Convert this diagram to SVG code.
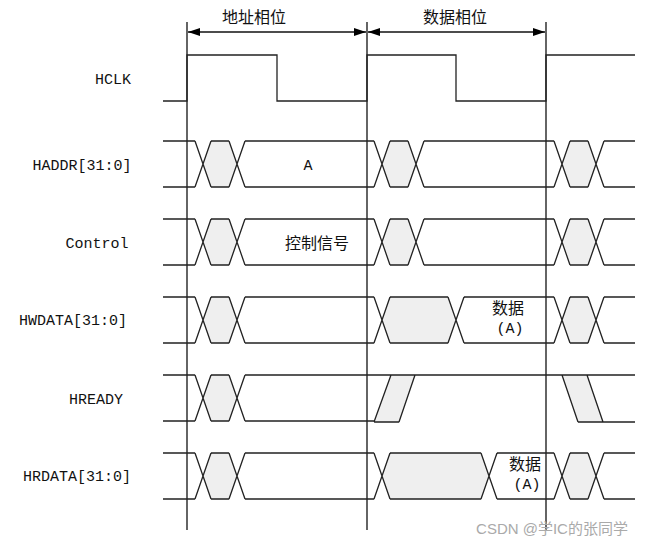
<svg xmlns="http://www.w3.org/2000/svg" width="661" height="548" viewBox="0 0 661 548">
<style>
.w{fill:none;stroke:#222;stroke-width:1.3}
.g{fill:#efefef;stroke:none}
.l{font-family:"Liberation Mono",monospace;font-size:15px;fill:#111}
.c{font-family:"Noto Sans CJK SC",sans-serif;font-size:16px;fill:#111}
.v{stroke:#111;stroke-width:1.3}
</style>
<defs>
<marker id="ah" markerWidth="12" markerHeight="8" refX="12" refY="4" orient="auto-start-reverse" markerUnits="userSpaceOnUse"><path d="M0,0L12,4L0,8z" fill="#000"/></marker>
<g id="xx">
<path class="g" d="M8,23L16,0H34L42,23L34,46H16Z"/>
<path class="w" d="M0,0L16,46M0,46L16,0M34,0L50,46M34,46L50,0M16,0H34M16,46H34"/>
</g>
</defs>
<rect width="661" height="548" fill="#fff"/>
<g id="connectors">
<line class="v" x1="187" y1="22" x2="187" y2="530"/>
<line class="v" x1="367" y1="22" x2="367" y2="530"/>
<line class="v" x1="546" y1="22" x2="546" y2="530"/>
<line class="v" x1="188" y1="32" x2="366" y2="32" marker-start="url(#ah)" marker-end="url(#ah)"/>
<line class="v" x1="368" y1="32" x2="545" y2="32" marker-start="url(#ah)" marker-end="url(#ah)"/>
</g>
<text class="c" x="254" y="23" text-anchor="middle">地址相位</text>
<text class="c" x="455" y="23" text-anchor="middle">数据相位</text>
<g id="HCLK">
<text class="l" x="113" y="84" text-anchor="middle">HCLK</text>
<path class="w" d="M163,101H187V55H277V101H367V55H456V101H546V55H635"/>
</g>
<g id="HADDR">
<text class="l" x="82" y="170" text-anchor="middle">HADDR[31:0]</text>
<g transform="translate(0,141)">
<path class="w" d="M163,0H195M163,46H195M245,0H374M245,46H374M424,0H554M424,46H554M604,0H635M604,46H635"/>
<use href="#xx" x="195"/><use href="#xx" x="374"/><use href="#xx" x="554"/>
</g>
<text class="l" x="308" y="170" text-anchor="middle">A</text>
</g>
<g id="Control">
<text class="l" x="97" y="248" text-anchor="middle">Control</text>
<g transform="translate(0,219)">
<path class="w" d="M163,0H195M163,46H195M245,0H374M245,46H374M424,0H554M424,46H554M604,0H635M604,46H635"/>
<use href="#xx" x="195"/><use href="#xx" x="374"/><use href="#xx" x="554"/>
</g>
<text class="c" x="317" y="249" text-anchor="middle">控制信号</text>
</g>
<g id="HWDATA">
<text class="l" x="73" y="325" text-anchor="middle">HWDATA[31:0]</text>
<g transform="translate(0,297)">
<path class="g" d="M382,23L390,0H448L456,23L448,46H390Z"/>
<path class="w" d="M163,0H195M163,46H195M245,0H374M245,46H374M374,0L390,46M374,46L390,0M390,0H448M390,46H448M448,0L464,46M448,46L464,0M464,0H554M464,46H554M604,0H635M604,46H635"/>
<use href="#xx" x="195"/><use href="#xx" x="554"/>
</g>
<text class="c" x="508" y="314" text-anchor="middle">数据</text>
<text class="l" x="510" y="333" text-anchor="middle">(A)</text>
</g>
<g id="HREADY">
<text class="l" x="96" y="404" text-anchor="middle">HREADY</text>
<g transform="translate(0,375)">
<path class="g" d="M374,47L391,0H415L399,47Z"/>
<path class="g" d="M562,0H587L603,47H578Z"/>
<path class="w" d="M163,0H195M163,46H195M245,0H635M245,46H374M374,47L391,0M399,47L415,0M374,47H399M562,0L578,47M587,0L603,47M578,47H635"/>
<use href="#xx" x="195"/>
</g>
</g>
<g id="HRDATA">
<text class="l" x="77" y="481" text-anchor="middle">HRDATA[31:0]</text>
<g transform="translate(0,453)">
<path class="g" d="M382,23L390,0H481L489,23L481,46H390Z"/>
<path class="w" d="M163,0H195M163,46H195M245,0H374M245,46H374M374,0L390,46M374,46L390,0M390,0H481M390,46H481M481,0L497,46M481,46L497,0M497,0H554M497,46H554M604,0H635M604,46H635"/>
<use href="#xx" x="195"/><use href="#xx" x="554"/>
</g>
<text class="c" x="525" y="470" text-anchor="middle">数据</text>
<text class="l" x="527" y="489" text-anchor="middle">(A)</text>
</g>
<text x="552" y="534" text-anchor="middle" font-family="'Liberation Sans','Noto Sans CJK SC',sans-serif" font-size="15" fill="#aaa">CSDN @学IC的张同学</text>
</svg>
